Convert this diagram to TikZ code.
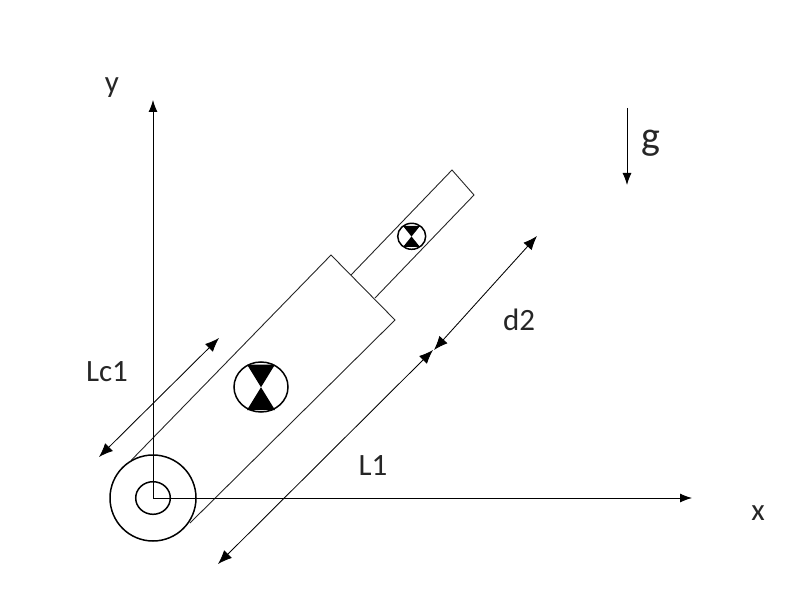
\documentclass[tikz,border=0pt]{standalone}
\usepackage{fontspec}
\setmainfont{Carlito}
\usetikzlibrary{arrows.meta}
\tikzset{
	axis/.style = {line width = .85pt, -{Latex[length = 12pt, width = 9pt]}},
	dimline/.style = {line width = .85pt, {Latex[length = 14pt, width = 11pt]}-{Latex[length = 14pt, width = 11pt]}},
	link/.style = {line width = .9pt, black!85},
	ring/.style = {line width = 1.5pt},
	label/.style = {font = \fontsize{31}{33}\selectfont, text = black!85, inner sep = 0pt}
}
\begin{document}
\begin{tikzpicture}[x = 1pt, y = -1pt]
	\useasboundingbox (0,0) rectangle (786,593);
	\coordinate (o) at (153,498);
	\coordinate (yend) at (153,100);
	\coordinate (xend) at (692,498);
	\coordinate (a1) at (131.5,460);
	\coordinate (a2) at (331,255);
	\coordinate (a3) at (395,320);
	\coordinate (a4) at (190,523);
	\coordinate (b1) at (351,275);
	\coordinate (b2) at (452,170);
	\coordinate (b3) at (474,195);
	\coordinate (b4) at (375,298);
	\coordinate (lctop) at (219,338);
	\coordinate (lcbot) at (99,457);
	\coordinate (ltop) at (433,350);
	\coordinate (lbot) at (218,564);
	\coordinate (dtop) at (537,236);
	\coordinate (dbot) at (434,350);
	\coordinate (gtop) at (627,108);
	\coordinate (gbot) at (627,185);
	% link outlines
	\draw [link] (a1) -- (a2) -- (a3) -- (a4);
	\draw [link] (b1) -- (b2) -- (b3) -- (b4);
	% joint
	\draw [ring] (o) circle [radius = 43];
	\draw [ring] (o) circle [x radius = 17.3, y radius = 16.3];
	% axes
	\draw [axis] (o) -- (yend);
	\draw [axis] (o) -- (xend);
	% masses
	\draw [ring] (261,387) circle [x radius = 27, y radius = 25];
	\fill (247,364.5) -- (275,364.5) -- (247,410) -- (275,410) -- cycle;
	\draw [ring] (411.7,236.3) circle [x radius = 14, y radius = 13];
	\fill (403,226) -- (420,226) -- (403,247) -- (420,247) -- cycle;
	% dimensions
	\draw [dimline] (lctop) -- (lcbot);
	\draw [dimline] (ltop) -- (lbot);
	\draw [dimline] (dtop) -- (dbot);
	\draw [axis] (gtop) -- (gbot);
	% labels
	\node [label] (ylabel) at (112,88) {y};
	\node [label] (xlabel) at (758,513) {x};
	\node [label, font = \fontsize{40}{42}\selectfont] (glabel) at (651,143) {g};
	\node [label] (lclabel) at (107,372) {Lc1};
	\node [label] (llabel) at (373,466) {L1};
	\node [label] (dlabel) at (519,320) {d2};
\end{tikzpicture}
\end{document}
